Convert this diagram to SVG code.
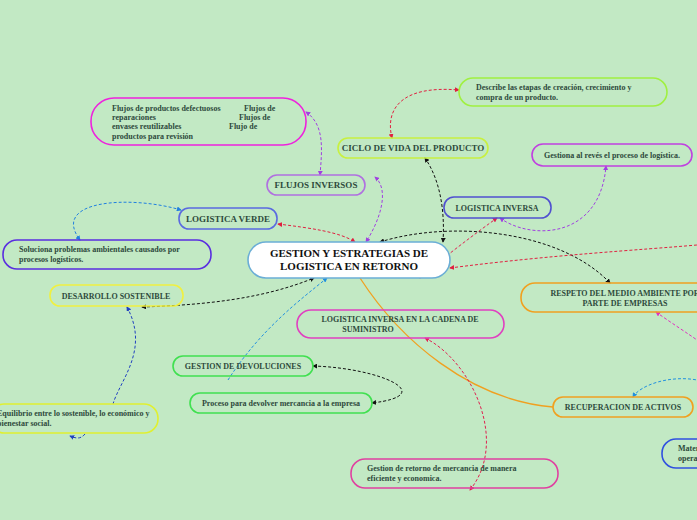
<svg xmlns="http://www.w3.org/2000/svg" width="697" height="520" viewBox="0 0 697 520">
<style>
text{font-family:"Liberation Serif",serif;font-weight:bold;fill:#2e4a3c;font-size:8px}
.t{font-size:9px}
.n{stroke-width:1.6}
.c{fill:none;stroke-width:1;stroke-dasharray:3,2}
</style>
<defs>
<marker id="a" viewBox="0 0 6 6" refX="5" refY="3" markerWidth="5" markerHeight="5" orient="auto-start-reverse"><path d="M0,0L6,3L0,6z" fill="context-stroke"/></marker>
</defs>
<rect width="697" height="520" fill="#c2e9c4"/>
<g id="connectors">
<path d="M360,278 C400,340 470,400 553,407" fill="none" stroke="#f0a020" stroke-width="1.3"/>
<path class="c" stroke="#a040e0" marker-start="url(#a)" marker-end="url(#a)" d="M306,112 C325,125 322,150 320,175"/>
<path class="c" stroke="#a040e0" marker-start="url(#a)" marker-end="url(#a)" d="M375,177 C390,190 380,220 366,242"/>
<path class="c" stroke="#e02040" marker-start="url(#a)" marker-end="url(#a)" d="M278,224 C310,228 340,232 355,242"/>
<path class="c" stroke="#e02050" marker-start="url(#a)" marker-end="url(#a)" d="M420,278 C440,260 480,230 497,218"/>
<path class="c" stroke="#111" marker-start="url(#a)" marker-end="url(#a)" d="M443,242 C445,210 440,180 425,158"/>
<path class="c" stroke="#e02040" marker-start="url(#a)" marker-end="url(#a)" d="M392,138 C385,110 400,85 459,90"/>
<path class="c" stroke="#a040e0" marker-start="url(#a)" marker-end="url(#a)" d="M500,218 C530,240 600,240 606,166"/>
<path class="c" stroke="#111" marker-start="url(#a)" marker-end="url(#a)" d="M380,242 C450,220 560,230 610,283"/>
<path class="c" stroke="#e02040" marker-start="url(#a)" d="M450,268 C550,255 640,250 697,245"/>
<path class="c" stroke="#e030c0" marker-start="url(#a)" d="M656,312 C670,322 690,335 697,340"/>
<path class="c" stroke="#2080e0" marker-start="url(#a)" marker-end="url(#a)" d="M181,210 C130,195 50,200 80,240"/>
<path class="c" stroke="#111" marker-start="url(#a)" marker-end="url(#a)" d="M142,307 C200,305 260,300 314,278"/>
<path class="c" stroke="#2040c0" marker-start="url(#a)" marker-end="url(#a)" d="M127,307 C150,350 120,380 113,404 M85,434 C80,440 75,438 70,436"/>
<path class="c" stroke="#2090e0" marker-start="url(#a)" d="M327,278 C300,300 260,330 228,380"/>
<path class="c" stroke="#111" marker-start="url(#a)" marker-end="url(#a)" d="M313,366 C380,368 440,395 372,403"/>
<path class="c" stroke="#e02050" marker-start="url(#a)" marker-end="url(#a)" d="M425,338 C470,360 510,440 470,490"/>
<path class="c" stroke="#2090e0" marker-start="url(#a)" d="M633,397 C640,385 670,375 697,380"/>
</g>
<g id="center"><rect class="n" x="248" y="242" width="202" height="36" rx="18" fill="#fff" stroke="#6baed6"/>
<text x="349" y="257" text-anchor="middle" style="font-size:11px;fill:#111">GESTION Y ESTRATEGIAS DE</text>
<text x="349" y="270" text-anchor="middle" style="font-size:11px;fill:#111">LOGISTICA EN RETORNO</text></g>
<g id="flujos"><rect class="n" x="91" y="98" width="215" height="47" rx="23" fill="none" stroke="#ee22dd"/>
<text x="112" y="111">Flujos de productos defectuosos</text><text x="244" y="111">Flujos de</text>
<text x="112" y="120">reparaciones</text><text x="239" y="120">Flujos de</text>
<text x="112" y="129">envases reutilizables</text><text x="229" y="129">Flujo de</text>
<text x="112" y="139">productos para revisión</text></g>
<g id="fi"><rect class="n" x="267" y="175" width="98" height="20" rx="10" fill="none" stroke="#b070e0"/><text class="t" x="316" y="188" text-anchor="middle">FLUJOS INVERSOS</text></g>
<g id="ciclo"><rect class="n" x="338" y="138" width="150" height="20" rx="10" fill="none" stroke="#c8f040"/><text class="t" x="413" y="151" text-anchor="middle">CICLO DE VIDA DEL PRODUCTO</text></g>
<g id="describe"><rect class="n" x="459" y="78" width="208" height="28" rx="14" fill="none" stroke="#a0f040"/><text x="476" y="90">Describe las etapas de creación, crecimiento y</text><text x="476" y="100">compra de un producto.</text></g>
<g id="gestiona"><rect class="n" x="532" y="144" width="160" height="22" rx="11" fill="none" stroke="#c040e0"/><text x="612" y="158" text-anchor="middle">Gestiona al revés el proceso de logística.</text></g>
<g id="li"><rect class="n" x="444" y="197" width="107" height="21" rx="10" fill="none" stroke="#5050d0"/><text x="497" y="211" text-anchor="middle">LOGISTICA INVERSA</text></g>
<g id="lv"><rect class="n" x="179" y="208" width="98" height="21" rx="10" fill="none" stroke="#5a6ae0"/><text class="t" x="228" y="222" text-anchor="middle">LOGISTICA VERDE</text></g>
<g id="soluciona"><rect class="n" x="3" y="240" width="208" height="29" rx="14" fill="none" stroke="#5a2ee0"/><text x="19" y="252">Soluciona problemas ambientales causados por</text><text x="19" y="262">procesos logísticos.</text></g>
<g id="ds"><rect class="n" x="50" y="285" width="133" height="21" rx="10" fill="none" stroke="#f0f040"/><text x="116" y="299" text-anchor="middle">DESARROLLO SOSTENIBLE</text></g>
<g id="equilibrio"><rect class="n" x="-10" y="404" width="168" height="29" rx="14" fill="none" stroke="#e0f030"/><text x="-3" y="416">Equilibrio entre lo sostenible, lo económico y</text><text x="-3" y="426">bienestar social.</text></g>
<g id="gd"><rect class="n" x="173" y="356" width="140" height="20" rx="10" fill="none" stroke="#40e050"/><text x="243" y="369" text-anchor="middle">GESTION DE DEVOLUCIONES</text></g>
<g id="proceso"><rect class="n" x="190" y="393" width="182" height="20" rx="10" fill="none" stroke="#40e050"/><text x="281" y="406" text-anchor="middle">Proceso para devolver mercancia a la empresa</text></g>
<g id="cadena"><rect class="n" x="297" y="310" width="207" height="28" rx="14" fill="none" stroke="#e040c0"/><text x="400" y="322" text-anchor="middle">LOGISTICA INVERSA EN LA CADENA DE</text><text x="368" y="332" text-anchor="middle">SUMINISTRO</text></g>
<g id="retorno"><rect class="n" x="351" y="459" width="207" height="29" rx="14" fill="none" stroke="#e040a0"/><text x="367" y="471">Gestion de retorno de mercancia de manera</text><text x="367" y="481">eficiente y economica.</text></g>
<g id="respeto"><rect class="n" x="521" y="283" width="200" height="29" rx="14" fill="none" stroke="#f0a020"/><text x="625" y="296" text-anchor="middle">RESPETO DEL MEDIO AMBIENTE POR</text><text x="625" y="306" text-anchor="middle">PARTE DE EMPRESAS</text></g>
<g id="recup"><rect class="n" x="553" y="397" width="140" height="20" rx="10" fill="none" stroke="#f0a020"/><text x="623" y="410" text-anchor="middle">RECUPERACION DE ACTIVOS</text></g>
<g id="mate"><rect class="n" x="662" y="439" width="60" height="29" rx="14" fill="none" stroke="#3050e0"/><text x="678" y="451">Materiales</text><text x="678" y="461">operativos</text></g>
</svg>
